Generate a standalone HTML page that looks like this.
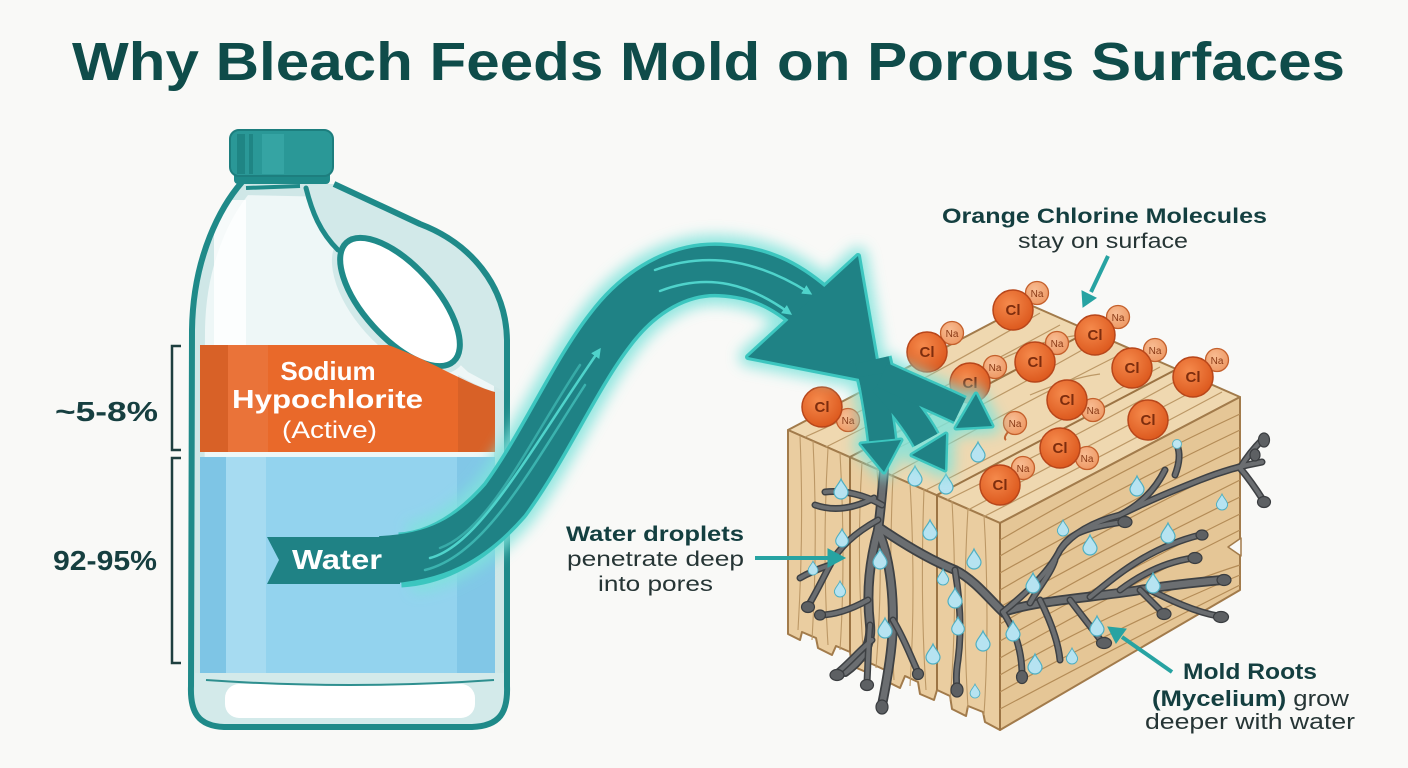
<!DOCTYPE html>
<html><head><meta charset="utf-8">
<style>
html,body{margin:0;padding:0;background:#F9F9F7;}
svg{display:block;}
text{font-family:"Liberation Sans",Arial,sans-serif;}
</style></head>
<body>
<svg width="1408" height="768" viewBox="0 0 1408 768" xmlns="http://www.w3.org/2000/svg">
<defs>
  <filter id="glow" x="-20%" y="-20%" width="140%" height="140%"><feGaussianBlur stdDeviation="7"/></filter>
  <radialGradient id="clg" cx="40%" cy="35%" r="65%"><stop offset="0" stop-color="#F58A4C"/><stop offset="1" stop-color="#DD5A1F"/></radialGradient>
  <radialGradient id="nag" cx="40%" cy="35%" r="65%"><stop offset="0" stop-color="#F8BC92"/><stop offset="1" stop-color="#EE9A66"/></radialGradient>
  <clipPath id="bottleClip"><path d="M 242 182 C 222 205, 193 255, 192 330 L 191 686 C 190 712, 198 726, 224 727 L 472 727 C 500 726, 508 712, 507 686 L 507 340 C 506 285, 470 243, 420 224 L 334 184 Z"/></clipPath>
  <marker id="mk" viewBox="0 0 10 10" refX="5" refY="5" markerWidth="4" markerHeight="4" orient="auto"><path d="M0 0 L10 5 L0 10 Z" fill="#4FD3CB"/></marker>
</defs>

<rect width="1408" height="768" fill="#F9F9F7"/>

<!-- Title -->
<text x="72" y="80" font-size="54" font-weight="bold" fill="#0F4C4A" textLength="1273" lengthAdjust="spacingAndGlyphs">Why Bleach Feeds Mold on Porous Surfaces</text>

<!-- ============ BOTTLE ============ -->
<g>
  <path d="M 242 182 C 222 205, 193 255, 192 330 L 191 686 C 190 712, 198 726, 224 727 L 472 727 C 500 726, 508 712, 507 686 L 507 340 C 506 285, 470 243, 420 224 L 334 184 Z" fill="#EEF7F7"/>
  <g clip-path="url(#bottleClip)">
    <path d="M 242 182 C 222 205, 193 255, 192 330 L 191 686 C 190 712, 198 726, 224 727 L 472 727 C 500 726, 508 712, 507 686 L 507 340 C 506 285, 470 243, 420 224 L 334 184 Z" fill="none" stroke="#CFE7E7" stroke-width="26"/>
    <rect x="214" y="200" width="32" height="150" fill="#FFFFFF" opacity="0.8"/>
    <!-- handle band -->
    <path d="M 306 186 C 314 220, 330 245, 352 262 L 468 372 L 505 392 L 507 330 C 502 280, 470 243, 420 224 L 334 184 Z" fill="#D2E9E9"/>
    <ellipse cx="400" cy="302" rx="88" ry="46" transform="rotate(48 400 302)" fill="#D2E9E9"/>
    <!-- bottom base -->
    <rect x="195" y="673" width="310" height="60" fill="#D3EAEA"/>
    <rect x="225" y="684" width="250" height="34" rx="14" fill="#FFFFFF"/>
    <path d="M 206 680 Q 350 690 494 680" stroke="#2E8F8F" stroke-width="2" fill="none"/>
  </g>
  <!-- handle hole -->
  <ellipse cx="400" cy="302" rx="80" ry="36" transform="rotate(48 400 302)" fill="#FFFFFF" stroke="#1F8A89" stroke-width="6"/>
  <path d="M 306 188 C 312 212, 320 232, 338 250" stroke="#1F8A89" stroke-width="5" fill="none" stroke-linecap="round"/>

  <!-- orange band -->
  <path d="M 200 345 L 388 345 C 430 360, 468 385, 495 392 L 495 452 L 200 452 Z" fill="#E9692A"/>
  <rect x="200" y="345" width="28" height="107" fill="#000" opacity="0.07"/>
  <rect x="228" y="345" width="40" height="107" fill="#fff" opacity="0.07"/>
  <path d="M 458 375 C 470 382, 485 389, 495 392 L 495 452 L 458 452 Z" fill="#000" opacity="0.07"/>
  <!-- blue band -->
  <rect x="200" y="457" width="295" height="216" fill="#93D3EE"/>
  <rect x="200" y="457" width="26" height="216" fill="#6FBCE0" opacity="0.6"/>
  <rect x="226" y="457" width="40" height="216" fill="#fff" opacity="0.18"/>
  <rect x="457" y="457" width="38" height="216" fill="#6FBCE0" opacity="0.5"/>

  <!-- outline -->
  <path d="M 242 182 C 222 205, 193 255, 192 330 L 191 686 C 190 712, 198 726, 224 727 L 472 727 C 500 726, 508 712, 507 686 L 507 340 C 506 285, 470 243, 420 224 L 334 184" fill="none" stroke="#1F8A89" stroke-width="6" stroke-linejoin="round"/>
  <path d="M 246 188 L 300 186" stroke="#1F8A89" stroke-width="4"/>
  <!-- cap -->
  <rect x="234" y="168" width="96" height="16" rx="4" fill="#1F8A89"/>
  <rect x="230" y="130" width="103" height="46" rx="9" fill="#2A9897" stroke="#1D7E7E" stroke-width="2"/>
  <rect x="237" y="134" width="8" height="40" fill="#1F8584"/>
  <rect x="249" y="134" width="4" height="40" fill="#1F8584"/>
  <rect x="262" y="134" width="22" height="40" fill="#3AAAA8" opacity="0.7"/>

  <!-- texts -->
  <text x="328" y="380" font-size="26" font-weight="bold" fill="#FFFFFF" text-anchor="middle">Sodium</text>
  <text x="232" y="408" font-size="26" font-weight="bold" fill="#FFFFFF" textLength="191" lengthAdjust="spacingAndGlyphs">Hypochlorite</text>
  <text x="282" y="438" font-size="24" fill="#FFFFFF" textLength="95" lengthAdjust="spacingAndGlyphs">(Active)</text>
</g>

<!-- brackets and percentages -->
<path d="M 181 346 L 172 346 L 172 450 L 181 450" fill="none" stroke="#1E3F3F" stroke-width="2.5"/>
<path d="M 181 458 L 172 458 L 172 663 L 181 663" fill="none" stroke="#1E3F3F" stroke-width="2.5"/>
<text x="55" y="421" font-size="28" font-weight="bold" fill="#163F40" textLength="103" lengthAdjust="spacingAndGlyphs">~5-8%</text>
<text x="53" y="570" font-size="28" font-weight="bold" fill="#163F40" textLength="104" lengthAdjust="spacingAndGlyphs">92-95%</text>

<!-- ============ WOOD BLOCK ============ -->
<g stroke-linejoin="round">
  <polygon points="788,430 1028,304 1240,397 1000,523" fill="#EFD8B0" stroke="#A27B4B" stroke-width="2"/>
  <polygon points="1000,523 1240,397 1240,590 1000,730" fill="#E5C696" stroke="#A27B4B" stroke-width="2"/>
  <path d="M 788 430 L 1000 523 L 1000 730 L 985 722 L 983 712 L 968 706 L 966 716 L 952 709 L 950 696 L 937 690 L 934 700 L 920 694 L 918 682 L 905 676 L 900 688 L 888 682 L 885 670 L 870 663 L 866 672 L 852 666 L 850 652 L 836 646 L 832 655 L 818 648 L 816 638 L 802 632 L 800 640 L 788 634 Z" fill="#EACDA0" stroke="#A27B4B" stroke-width="2"/>

  <g fill="none" stroke="#BC9866" stroke-width="1.2">
    <path d="M 805 437 Q 900 395 1040 313"/>
    <path d="M 826 447 Q 940 390 1060 325"/>
    <path d="M 866 464 Q 980 408 1100 340"/>
    <path d="M 890 476 Q 1010 410 1125 352"/>
    <path d="M 926 490 Q 1040 432 1160 367"/>
    <path d="M 947 500 Q 1070 440 1185 376"/>
    <path d="M 968 510 Q 1090 445 1205 385"/>
    <path d="M 985 516 Q 1110 452 1222 392"/>
    <path d="M 1030 395 Q 1070 378 1100 374"/>
    <path d="M 1000 360 Q 1040 340 1080 335"/>
  </g>
  <g fill="none" stroke="#9C7444" stroke-width="2">
    <path d="M 850 457 L 1080 336"/>
    <path d="M 937 495 L 1177 369"/>
  </g>
  <g fill="none" stroke="#9C7444" stroke-width="2">
    <path d="M 850 457 L 850 652"/>
    <path d="M 937 495 L 937 690"/>
    <path d="M 1000 523 L 1000 730"/>
  </g>
  <g fill="none" stroke="#BC9866" stroke-width="1.1">
    <path d="M 800 436 Q 804 530 798 630"/>
    <path d="M 813 441 Q 818 540 812 640"/>
    <path d="M 828 448 Q 822 550 828 645"/>
    <path d="M 840 453 Q 846 560 840 650"/>
    <path d="M 862 462 Q 856 560 864 662"/>
    <path d="M 877 469 Q 884 570 876 668"/>
    <path d="M 893 476 Q 888 580 894 680"/>
    <path d="M 910 483 Q 916 590 910 686"/>
    <path d="M 924 489 Q 920 600 926 690"/>
    <path d="M 952 501 Q 958 610 950 700"/>
    <path d="M 968 508 Q 962 610 968 708"/>
    <path d="M 984 515 Q 990 620 984 715"/>
  </g>
  <g fill="none" stroke="#B48C57" stroke-width="1.2">
    <path d="M 1000 540 Q 1120 470 1240 414"/>
    <path d="M 1000 556 Q 1110 492 1240 430"/>
    <path d="M 1000 573 Q 1130 500 1240 447"/>
    <path d="M 1000 590 Q 1120 520 1240 463"/>
    <path d="M 1000 607 Q 1130 535 1240 480"/>
    <path d="M 1000 624 Q 1120 555 1240 497"/>
    <path d="M 1000 641 Q 1130 568 1240 514"/>
    <path d="M 1000 658 Q 1120 590 1240 530"/>
    <path d="M 1000 675 Q 1130 600 1240 565"/>
    <path d="M 1000 692 Q 1120 625 1240 575"/>
    <path d="M 1000 709 Q 1130 640 1240 585"/>
  </g>
  <polygon points="1241,538 1228,547 1241,556" fill="#F9F9F7" stroke="#A27B4B" stroke-width="1.5"/>
</g>

<!-- ============ MYCELIUM ============ -->
<g fill="none" stroke-linecap="round">
  <g stroke="#3E4144" stroke-width="10">
    <path d="M 884 470 C 882 495, 880 515, 878 530"/>
    <path d="M 878 530 C 870 560, 866 590, 870 625 C 872 645, 862 660, 845 672"/>
    <path d="M 880 535 C 890 560, 895 600, 892 640 C 890 665, 885 690, 882 705"/>
    <path d="M 880 528 C 905 545, 930 560, 955 570 C 975 580, 990 600, 1003 612 C 1040 600, 1090 598, 1140 590 C 1170 585, 1200 582, 1222 580"/>
  </g>
  <g stroke="#6B6E71" stroke-width="6.5">
    <path d="M 884 470 C 882 495, 880 515, 878 530"/>
    <path d="M 878 530 C 870 560, 866 590, 870 625 C 872 645, 862 660, 845 672"/>
    <path d="M 880 535 C 890 560, 895 600, 892 640 C 890 665, 885 690, 882 705"/>
    <path d="M 880 528 C 905 545, 930 560, 955 570 C 975 580, 990 600, 1003 612 C 1040 600, 1090 598, 1140 590 C 1170 585, 1200 582, 1222 580"/>
  </g>
  <g stroke="#3E4144" stroke-width="7">
    <path d="M 878 520 C 860 530, 840 545, 830 565 C 822 580, 815 595, 808 606"/>
    <path d="M 882 505 C 865 495, 845 490, 825 492"/>
    <path d="M 874 498 C 855 508, 835 512, 815 505"/>
    <path d="M 868 600 C 850 610, 835 615, 820 615"/>
    <path d="M 872 640 C 860 650, 850 662, 838 672"/>
    <path d="M 893 620 C 905 640, 912 660, 918 672"/>
    <path d="M 955 570 C 960 600, 962 630, 958 660 C 956 672, 956 680, 957 688"/>
    <path d="M 1003 612 C 1015 630, 1022 650, 1022 675"/>
    <path d="M 1003 612 C 1030 590, 1050 570, 1060 550 C 1075 530, 1100 520, 1120 515 C 1140 505, 1155 490, 1165 470"/>
    <path d="M 1070 600 C 1085 620, 1095 632, 1102 642"/>
    <path d="M 1040 600 C 1050 620, 1058 640, 1060 660"/>
    <path d="M 1120 590 C 1140 575, 1165 562, 1193 558"/>
    <path d="M 1150 590 C 1170 600, 1195 612, 1218 616"/>
    <path d="M 1140 590 C 1150 600, 1158 608, 1163 613"/>
    <path d="M 1060 550 C 1068 536, 1080 528, 1123 522"/>
    <path d="M 1120 515 C 1150 500, 1175 490, 1200 480 C 1225 470, 1245 465, 1262 462"/>
    <path d="M 1175 475 C 1180 462, 1180 452, 1177 445"/>
    <path d="M 1240 468 C 1248 455, 1255 447, 1262 440"/>
    <path d="M 1240 468 C 1250 480, 1258 492, 1263 500"/>
    <path d="M 830 565 C 815 570, 805 575, 800 578"/>
    <path d="M 870 625 C 868 650, 868 665, 867 682"/>
    <path d="M 1090 597 C 1105 585, 1120 572, 1140 560 C 1160 548, 1180 540, 1200 535"/>
    <path d="M 1030 603 C 1040 585, 1050 575, 1055 560"/>
  </g>
  <g stroke="#6B6E71" stroke-width="4">
    <path d="M 878 520 C 860 530, 840 545, 830 565 C 822 580, 815 595, 808 606"/>
    <path d="M 882 505 C 865 495, 845 490, 825 492"/>
    <path d="M 874 498 C 855 508, 835 512, 815 505"/>
    <path d="M 868 600 C 850 610, 835 615, 820 615"/>
    <path d="M 872 640 C 860 650, 850 662, 838 672"/>
    <path d="M 893 620 C 905 640, 912 660, 918 672"/>
    <path d="M 955 570 C 960 600, 962 630, 958 660 C 956 672, 956 680, 957 688"/>
    <path d="M 1003 612 C 1015 630, 1022 650, 1022 675"/>
    <path d="M 1003 612 C 1030 590, 1050 570, 1060 550 C 1075 530, 1100 520, 1120 515 C 1140 505, 1155 490, 1165 470"/>
    <path d="M 1070 600 C 1085 620, 1095 632, 1102 642"/>
    <path d="M 1040 600 C 1050 620, 1058 640, 1060 660"/>
    <path d="M 1120 590 C 1140 575, 1165 562, 1193 558"/>
    <path d="M 1150 590 C 1170 600, 1195 612, 1218 616"/>
    <path d="M 1140 590 C 1150 600, 1158 608, 1163 613"/>
    <path d="M 1060 550 C 1068 536, 1080 528, 1123 522"/>
    <path d="M 1120 515 C 1150 500, 1175 490, 1200 480 C 1225 470, 1245 465, 1262 462"/>
    <path d="M 1175 475 C 1180 462, 1180 452, 1177 445"/>
    <path d="M 1240 468 C 1248 455, 1255 447, 1262 440"/>
    <path d="M 1240 468 C 1250 480, 1258 492, 1263 500"/>
    <path d="M 830 565 C 815 570, 805 575, 800 578"/>
    <path d="M 870 625 C 868 650, 868 665, 867 682"/>
    <path d="M 1090 597 C 1105 585, 1120 572, 1140 560 C 1160 548, 1180 540, 1200 535"/>
    <path d="M 1030 603 C 1040 585, 1050 575, 1055 560"/>
  </g>
</g>
<g fill="#5D6063" stroke="#3A3D40" stroke-width="1.2">
  <ellipse cx="808" cy="607" rx="6.5" ry="5.5"/>
  <ellipse cx="837" cy="675" rx="7" ry="5.5"/>
  <ellipse cx="867" cy="685" rx="6.5" ry="5.5"/>
  <ellipse cx="882" cy="707" rx="6" ry="7"/>
  <ellipse cx="957" cy="690" rx="6" ry="7"/>
  <ellipse cx="918" cy="674" rx="5.5" ry="5.5"/>
  <ellipse cx="1104" cy="643" rx="7.5" ry="5.5"/>
  <ellipse cx="1164" cy="614" rx="7" ry="5.5"/>
  <ellipse cx="1221" cy="617" rx="7.5" ry="5.5"/>
  <ellipse cx="1224" cy="580" rx="7" ry="5.5"/>
  <ellipse cx="1195" cy="558" rx="7" ry="5.5"/>
  <ellipse cx="1125" cy="522" rx="7" ry="5.5"/>
  <ellipse cx="1202" cy="535" rx="6" ry="5"/>
  <ellipse cx="1264" cy="440" rx="5.5" ry="7"/>
  <ellipse cx="1264" cy="502" rx="6.5" ry="5.5"/>
  <ellipse cx="1255" cy="455" rx="5" ry="6"/>
  <ellipse cx="1022" cy="677" rx="5.5" ry="6.5"/>
  <ellipse cx="820" cy="615" rx="5.5" ry="5"/>
</g>
<circle cx="1177" cy="444" r="4.5" fill="#BFE6F2" stroke="#5FB6C6" stroke-width="1"/>

<!-- droplets -->
<g fill="#B6E3F1" stroke="#4FAFC2" stroke-width="1.2">
  <path transform="translate(978,452)" d="M0 -10 C2 -5,7 -1,7 3 A7 7 0 0 1 -7 3 C-7 -1,-2 -5,0 -10 Z"/>
  <path transform="translate(915,476)" d="M0 -10 C2 -5,7 -1,7 3 A7 7 0 0 1 -7 3 C-7 -1,-2 -5,0 -10 Z"/>
  <path transform="translate(946,484)" d="M0 -10 C2 -5,7 -1,7 3 A7 7 0 0 1 -7 3 C-7 -1,-2 -5,0 -10 Z"/>
  <path transform="translate(841,489)" d="M0 -10 C2 -5,7 -1,7 3 A7 7 0 0 1 -7 3 C-7 -1,-2 -5,0 -10 Z"/>
  <path transform="translate(1137,486)" d="M0 -10 C2 -5,7 -1,7 3 A7 7 0 0 1 -7 3 C-7 -1,-2 -5,0 -10 Z"/>
  <path transform="translate(1222,502) scale(0.8)" d="M0 -10 C2 -5,7 -1,7 3 A7 7 0 0 1 -7 3 C-7 -1,-2 -5,0 -10 Z"/>
  <path transform="translate(842,538) scale(0.9)" d="M0 -10 C2 -5,7 -1,7 3 A7 7 0 0 1 -7 3 C-7 -1,-2 -5,0 -10 Z"/>
  <path transform="translate(930,530)" d="M0 -10 C2 -5,7 -1,7 3 A7 7 0 0 1 -7 3 C-7 -1,-2 -5,0 -10 Z"/>
  <path transform="translate(880,559)" d="M0 -10 C2 -5,7 -1,7 3 A7 7 0 0 1 -7 3 C-7 -1,-2 -5,0 -10 Z"/>
  <path transform="translate(974,559)" d="M0 -10 C2 -5,7 -1,7 3 A7 7 0 0 1 -7 3 C-7 -1,-2 -5,0 -10 Z"/>
  <path transform="translate(813,568) scale(0.7)" d="M0 -10 C2 -5,7 -1,7 3 A7 7 0 0 1 -7 3 C-7 -1,-2 -5,0 -10 Z"/>
  <path transform="translate(840,589) scale(0.8)" d="M0 -10 C2 -5,7 -1,7 3 A7 7 0 0 1 -7 3 C-7 -1,-2 -5,0 -10 Z"/>
  <path transform="translate(943,577) scale(0.8)" d="M0 -10 C2 -5,7 -1,7 3 A7 7 0 0 1 -7 3 C-7 -1,-2 -5,0 -10 Z"/>
  <path transform="translate(955,598)" d="M0 -10 C2 -5,7 -1,7 3 A7 7 0 0 1 -7 3 C-7 -1,-2 -5,0 -10 Z"/>
  <path transform="translate(885,628)" d="M0 -10 C2 -5,7 -1,7 3 A7 7 0 0 1 -7 3 C-7 -1,-2 -5,0 -10 Z"/>
  <path transform="translate(958,626) scale(0.9)" d="M0 -10 C2 -5,7 -1,7 3 A7 7 0 0 1 -7 3 C-7 -1,-2 -5,0 -10 Z"/>
  <path transform="translate(983,641)" d="M0 -10 C2 -5,7 -1,7 3 A7 7 0 0 1 -7 3 C-7 -1,-2 -5,0 -10 Z"/>
  <path transform="translate(933,654)" d="M0 -10 C2 -5,7 -1,7 3 A7 7 0 0 1 -7 3 C-7 -1,-2 -5,0 -10 Z"/>
  <path transform="translate(975,691) scale(0.7)" d="M0 -10 C2 -5,7 -1,7 3 A7 7 0 0 1 -7 3 C-7 -1,-2 -5,0 -10 Z"/>
  <path transform="translate(1013,631)" d="M0 -10 C2 -5,7 -1,7 3 A7 7 0 0 1 -7 3 C-7 -1,-2 -5,0 -10 Z"/>
  <path transform="translate(1033,583)" d="M0 -10 C2 -5,7 -1,7 3 A7 7 0 0 1 -7 3 C-7 -1,-2 -5,0 -10 Z"/>
  <path transform="translate(1063,528) scale(0.8)" d="M0 -10 C2 -5,7 -1,7 3 A7 7 0 0 1 -7 3 C-7 -1,-2 -5,0 -10 Z"/>
  <path transform="translate(1090,545)" d="M0 -10 C2 -5,7 -1,7 3 A7 7 0 0 1 -7 3 C-7 -1,-2 -5,0 -10 Z"/>
  <path transform="translate(1168,533)" d="M0 -10 C2 -5,7 -1,7 3 A7 7 0 0 1 -7 3 C-7 -1,-2 -5,0 -10 Z"/>
  <path transform="translate(1153,583)" d="M0 -10 C2 -5,7 -1,7 3 A7 7 0 0 1 -7 3 C-7 -1,-2 -5,0 -10 Z"/>
  <path transform="translate(1097,626)" d="M0 -10 C2 -5,7 -1,7 3 A7 7 0 0 1 -7 3 C-7 -1,-2 -5,0 -10 Z"/>
  <path transform="translate(1072,656) scale(0.8)" d="M0 -10 C2 -5,7 -1,7 3 A7 7 0 0 1 -7 3 C-7 -1,-2 -5,0 -10 Z"/>
  <path transform="translate(1035,664)" d="M0 -10 C2 -5,7 -1,7 3 A7 7 0 0 1 -7 3 C-7 -1,-2 -5,0 -10 Z"/>
</g>

<!-- ============ MOLECULES ============ -->
<g text-anchor="middle">
  <g stroke="#C4602C" stroke-width="1.3" fill="url(#nag)">
    <circle cx="848" cy="420" r="11.5"/><circle cx="952" cy="333" r="11.5"/><circle cx="1037" cy="293" r="11.5"/>
    <circle cx="995" cy="367" r="11.5"/><circle cx="1057" cy="343" r="11.5"/><circle cx="1118" cy="317" r="11.5"/>
    <circle cx="1155" cy="350" r="11.5"/><circle cx="1217" cy="360" r="11.5"/><circle cx="1093" cy="410" r="11.5"/>
    <circle cx="1087" cy="458" r="11.5"/><circle cx="1023" cy="468" r="11.5"/><circle cx="1015" cy="423" r="11.5"/>
  </g>
  <path d="M 1008 432 Q 1003 438 1006 440" stroke="#C4602C" stroke-width="2" fill="none"/>
  <g fill="#8A3A16" font-size="10">
    <text x="848" y="424">Na</text><text x="952" y="337">Na</text><text x="1037" y="297">Na</text>
    <text x="995" y="371">Na</text><text x="1057" y="347">Na</text><text x="1118" y="321">Na</text>
    <text x="1155" y="354">Na</text><text x="1217" y="364">Na</text><text x="1093" y="414">Na</text>
    <text x="1087" y="462">Na</text><text x="1023" y="472">Na</text><text x="1015" y="427">Na</text>
  </g>
  <g stroke="#B8461A" stroke-width="1.5" fill="url(#clg)">
    <circle cx="822" cy="407" r="20"/><circle cx="927" cy="352" r="20"/><circle cx="1013" cy="310" r="20"/>
    <circle cx="970" cy="383" r="20"/><circle cx="1035" cy="362" r="20"/><circle cx="1095" cy="335" r="20"/>
    <circle cx="1132" cy="368" r="20"/><circle cx="1193" cy="377" r="20"/><circle cx="1067" cy="400" r="20"/>
    <circle cx="1148" cy="420" r="20"/><circle cx="1060" cy="448" r="20"/><circle cx="1000" cy="485" r="20"/>
  </g>
  <g fill="#7D2D0E" font-size="15" font-weight="bold">
    <text x="822" y="412">Cl</text><text x="927" y="357">Cl</text><text x="1013" y="315">Cl</text>
    <text x="970" y="388">Cl</text><text x="1035" y="367">Cl</text><text x="1095" y="340">Cl</text>
    <text x="1132" y="373">Cl</text><text x="1193" y="382">Cl</text><text x="1067" y="405">Cl</text>
    <text x="1148" y="425">Cl</text><text x="1060" y="453">Cl</text><text x="1000" y="490">Cl</text>
  </g>
</g>

<!-- ============ RIBBON ARROW ============ -->
<g stroke-linejoin="round" stroke-linecap="butt">
  <g filter="url(#glow)" opacity="0.85" stroke="#7FE3DC" fill="#7FE3DC">
    <path d="M 410 558 C 435 556, 470 540, 505 500 C 545 445, 575 375, 610 330 C 640 290, 680 268, 720 270 C 760 272, 785 285, 812 308" fill="none" stroke-width="70"/>
    <polygon points="858,256 748,357 880,383" stroke-width="18"/>
    <path d="M 872 360 L 880 395" fill="none" stroke-width="50"/>
    <path d="M 872 375 C 876 400, 880 420, 882 440" fill="none" stroke-width="40"/>
    <path d="M 882 382 C 900 402, 915 420, 926 440" fill="none" stroke-width="40"/>
    <path d="M 882 375 C 910 388, 935 398, 960 410" fill="none" stroke-width="40"/>
    <polygon points="861,444 901,440 884,472" stroke-width="16"/>
    <polygon points="946,434 912,455 945,470" stroke-width="16"/>
    <polygon points="976,394 956,428 992,426" stroke-width="16"/>
  </g>
  <g stroke="#3CC6BF" fill="#3CC6BF">
    <path d="M 400 560 C 435 558, 470 540, 505 500 C 545 445, 575 375, 610 330 C 640 290, 680 268, 720 270 C 760 272, 785 285, 812 308" fill="none" stroke-width="55"/>
    <polygon points="858,256 748,357 880,383" stroke-width="6"/>
    <path d="M 872 360 L 880 395" fill="none" stroke-width="40"/>
    <path d="M 872 375 C 876 400, 880 420, 882 440" fill="none" stroke-width="31"/>
    <path d="M 882 382 C 900 402, 915 420, 926 440" fill="none" stroke-width="31"/>
    <path d="M 882 375 C 910 388, 935 398, 960 410" fill="none" stroke-width="31"/>
    <polygon points="861,444 901,440 884,472" stroke-width="5"/>
    <polygon points="946,434 912,455 945,470" stroke-width="5"/>
    <polygon points="976,394 956,428 992,426" stroke-width="5"/>
  </g>
  <g stroke="#1F8285" fill="#1F8285">
    <path d="M 380 560 C 435 558, 470 540, 505 500 C 545 445, 575 375, 610 330 C 640 290, 680 268, 720 270 C 760 272, 785 285, 812 308" fill="none" stroke-width="48"/>
    <polygon points="858,256 748,357 880,383" stroke-width="0"/>
    <path d="M 872 360 L 880 395" fill="none" stroke-width="34"/>
    <path d="M 872 375 C 876 400, 880 420, 882 440" fill="none" stroke-width="26"/>
    <path d="M 882 382 C 900 402, 915 420, 926 440" fill="none" stroke-width="26"/>
    <path d="M 882 375 C 910 388, 935 398, 960 410" fill="none" stroke-width="26"/>
    <polygon points="861,444 901,440 884,472" stroke-width="0"/>
    <polygon points="946,434 912,455 945,470" stroke-width="0"/>
    <polygon points="976,394 956,428 992,426" stroke-width="0"/>
  </g>
  <polygon points="267,537 400,537 400,584 267,584 279,560" fill="#1F8285"/>
  <text x="292" y="569" font-size="28" font-weight="bold" fill="#FFFFFF" textLength="90" lengthAdjust="spacingAndGlyphs">Water</text>
  <g fill="none" stroke="#4FD3CB" stroke-width="2.5" stroke-linecap="round">
    <path d="M 655 270 C 710 250, 760 262, 808 292" marker-end="url(#mk)"/>
    <path d="M 660 291 C 710 272, 750 285, 788 312" marker-end="url(#mk)"/>
    <path d="M 430 558 C 480 545, 530 450, 598 352" marker-end="url(#mk)"/>
    <path d="M 425 570 C 485 555, 530 470, 585 385" opacity="0.6"/>
    <path d="M 440 548 C 490 530, 530 440, 580 365" opacity="0.5"/>
  </g>
</g>

<!-- ============ LABELS ============ -->
<text x="942" y="223" font-size="21" font-weight="bold" fill="#143F40" textLength="325" lengthAdjust="spacingAndGlyphs">Orange Chlorine Molecules</text>
<text x="1018" y="248" font-size="21" fill="#263535" textLength="170" lengthAdjust="spacingAndGlyphs">stay on surface</text>
<g stroke="#27A3A2" stroke-width="4" fill="#27A3A2">
  <line x1="1108" y1="256" x2="1091" y2="292"/>
  <polygon points="1083,307 1096,298 1082,291" stroke-width="1"/>
</g>

<text x="566" y="541" font-size="21" font-weight="bold" fill="#143F40" textLength="178" lengthAdjust="spacingAndGlyphs">Water droplets</text>
<text x="567" y="566" font-size="21" fill="#263535" textLength="177" lengthAdjust="spacingAndGlyphs">penetrate deep</text>
<text x="598" y="591" font-size="21" fill="#263535" textLength="115" lengthAdjust="spacingAndGlyphs">into pores</text>
<g stroke="#27A3A2" stroke-width="4" fill="#27A3A2">
  <line x1="755" y1="558" x2="828" y2="558"/>
  <polygon points="845,558 828,549 828,567" stroke-width="1"/>
</g>

<text x="1183" y="679" font-size="22" font-weight="bold" fill="#143F40" textLength="134" lengthAdjust="spacingAndGlyphs">Mold Roots</text>
<text x="1152" y="706" font-size="22" fill="#263535" textLength="197" lengthAdjust="spacingAndGlyphs"><tspan font-weight="bold" fill="#143F40">(Mycelium)</tspan> grow</text>
<text x="1145" y="729" font-size="22" fill="#263535" textLength="210" lengthAdjust="spacingAndGlyphs">deeper with water</text>
<g stroke="#27A3A2" stroke-width="4" fill="#27A3A2">
  <line x1="1172" y1="672" x2="1122" y2="637"/>
  <polygon points="1108,627 1126,629 1116,643" stroke-width="1"/>
</g>
</svg>
</body></html>
